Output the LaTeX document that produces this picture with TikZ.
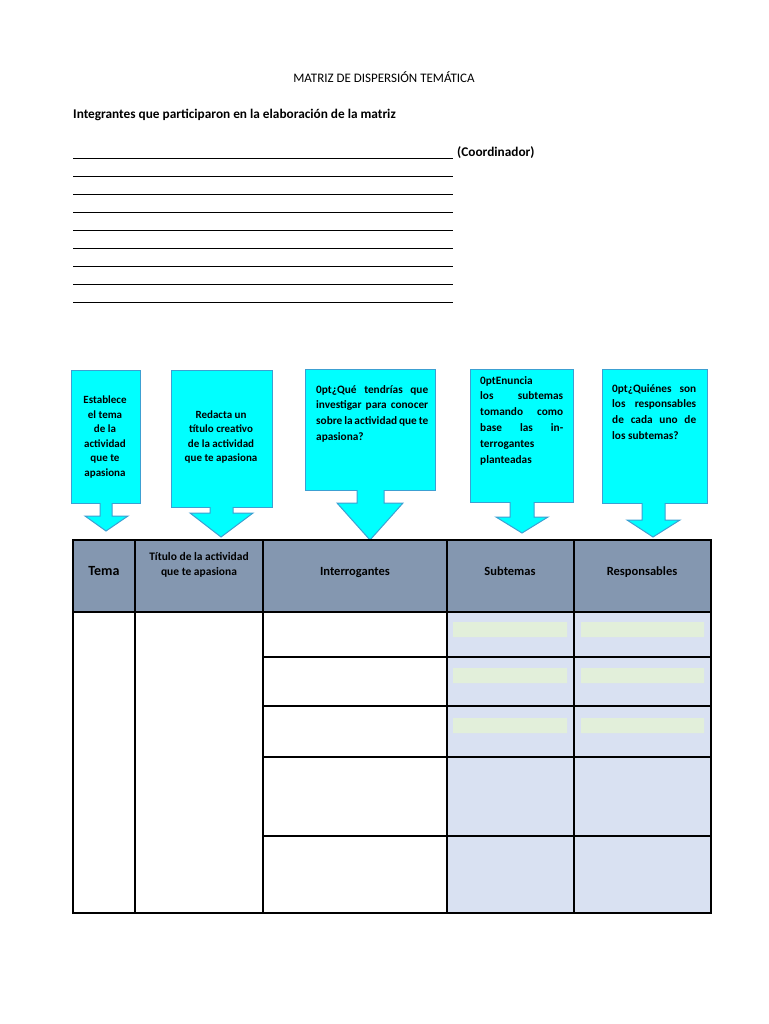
\documentclass[tikz,border=0pt]{standalone}
\usepackage{fontspec}
\setmainfont{Carlito}
\definecolor{cy}{RGB}{0,255,255}
\definecolor{cyb}{RGB}{60,160,210}
\begin{document}
\begin{tikzpicture}[x=1pt,y=-1pt,
 cbox/.style={draw=cyb, line width=1pt, fill=cy, anchor=north west, inner sep=0pt},
 carrow/.style={draw=cyb, line width=1pt, fill=cy},
 ctext/.style={font=\fontsize{11}{14.5}\selectfont\bfseries, align=center},
 jtext/.style={font=\fontsize{11.3}{15.8}\selectfont\bfseries\hyphenpenalty=10000, align=justify, anchor=north west, inner sep=0pt},
 hdr/.style={font=\fontsize{12.5}{16}\selectfont\bfseries, align=center, text height=9pt, text depth=2pt},
 tline/.style={line width=2.2pt, black}]
\useasboundingbox (0,0) rectangle (768,1024);
\node (title) at (384,77) {\fontsize{13}{16}\selectfont MATRIZ DE DISPERSIÓN TEMÁTICA};
\node[anchor=west, inner sep=0pt] (integ) at (73,115) {\fontsize{13.3}{16}\selectfont\bfseries Integrantes que participaron en la elaboración de la matriz};
\node[anchor=west, inner sep=0pt] (coord) at (457,153) {\fontsize{13.3}{16}\selectfont\bfseries (Coordinador)};
\foreach \y in {158,176,194,212,230,248,266,284,302} \draw[line width=0.7pt] (73,\y) -- (453,\y);
% box 1
\node[cbox, minimum width=69pt, minimum height=133pt] (b1) at (71,370) {};
\draw[carrow] (100,503) -- (100,516) -- (85,516) -- (106,531) -- (128,516) -- (112,516) -- (112,503);
\node[ctext] (t1) at (105,437) {Establece\\el tema\\de la\\actividad\\que te\\apasiona};
% box 2
\node[cbox, minimum width=101pt, minimum height=137pt] (b2) at (171,370) {};
\draw[carrow] (210,507) -- (210,513) -- (190,513) -- (221,537) -- (253,513) -- (233,513) -- (233,507);
\node[ctext] (t2) at (221,437) {Redacta un\\título creativo\\de la actividad\\que te apasiona};
% box 3
\node[cbox, minimum width=130pt, minimum height=121pt] (b3) at (305,369) {};
\draw[carrow] (357,490) -- (357,503) -- (337,503) -- (370,540) -- (403,503) -- (384,503) -- (384,490);
\node[jtext, text width=112pt] (t3) at (316,385) {¿Qué tendrías que investigar para conocer sobre la actividad que te apasiona?};
% box 4
\node[cbox, minimum width=103pt, minimum height=133pt] (b4) at (470,369) {};
\draw[carrow] (510,502) -- (510,517) -- (496,517) -- (522,533) -- (548,517) -- (534,517) -- (534,502);
\node[jtext, text width=83pt] (t4) at (480,376) {Enuncia los subtemas tomando como base las interrogantes planteadas};
% box 5
\node[cbox, minimum width=105pt, minimum height=134pt] (b5) at (602,369) {};
\draw[carrow] (642,503) -- (642,520) -- (627,520) -- (653,537) -- (680,520) -- (665,520) -- (665,503);
\node[jtext, text width=84pt] (t5) at (612,384) {¿Quiénes son los responsables de cada uno de los subtemas?};
% table fills
\fill[fill={rgb,255:red,132;green,151;blue,176}] (73,540) rectangle (711,612);
\fill[fill={rgb,255:red,217;green,225;blue,242}] (447,612) rectangle (711,913);
\fill[fill={rgb,255:red,226;green,239;blue,218}] (453,622) rectangle (567,637) (581,622) rectangle (704,637)
  (453,668) rectangle (567,683) (581,668) rectangle (704,683)
  (453,718) rectangle (567,733) (581,718) rectangle (704,733);
% table lines
\draw[tline] (73,540) rectangle (711,913);
\draw[tline] (73,612) -- (711,612);
\foreach \x in {135,263,447,574} \draw[tline] (\x,540) -- (\x,913);
\foreach \y in {657,706,757,836} \draw[tline] (263,\y) -- (711,\y);
\node[hdr] (h1) at (104,572) {\fontsize{14}{16}\selectfont Tema};
\node[hdr, font=\fontsize{11.5}{15}\selectfont\bfseries] (h2) at (199,572) {Título de la actividad\\que te apasiona};
\node[hdr] (h3) at (355,572) {Interrogantes};
\node[hdr] (h4) at (510,572) {Subtemas};
\node[hdr] (h5) at (642,572) {Responsables};
\end{tikzpicture}
\end{document}
